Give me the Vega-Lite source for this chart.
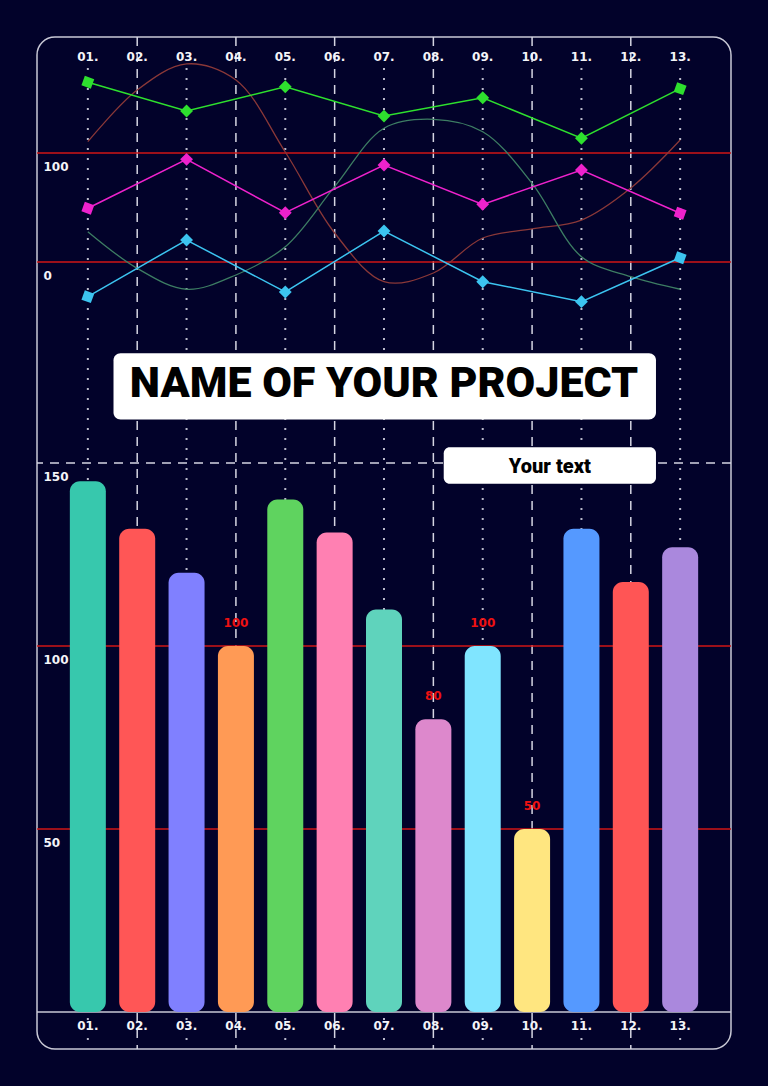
{
  "$schema": "https://vega.github.io/schema/vega-lite/v6.json",
  "width": 694,
  "height": 1012,
  "autosize": {"type": "none"},
  "padding": {"left": 37, "top": 37, "right": 37, "bottom": 37},
  "background": "#02022a",
  "view": {"stroke": "#c9c9d6", "strokeWidth": 1.5, "cornerRadius": 18},
  "config": {
    "axis": {"disable": true},
    "legend": {"disable": true},
    "scale": {"continuousPadding": 0},
    "view": {"stroke": "#c9c9d6", "strokeWidth": 1.5, "cornerRadius": 18},
    "text": {"font": "DejaVu Sans", "fontWeight": "bold", "fontSize": 12, "color": "#f4f4f8"}
  },
  "datasets": {
    "cols": [
      {"col": 1, "label": "01."}, {"col": 2, "label": "02."}, {"col": 3, "label": "03."},
      {"col": 4, "label": "04."}, {"col": 5, "label": "05."}, {"col": 6, "label": "06."},
      {"col": 7, "label": "07."}, {"col": 8, "label": "08."}, {"col": 9, "label": "09."},
      {"col": 10, "label": "10."}, {"col": 11, "label": "11."}, {"col": 12, "label": "12."},
      {"col": 13, "label": "13."}
    ],
    "bars": [
      {"col": 1, "v": 145}, {"col": 2, "v": 132}, {"col": 3, "v": 120}, {"col": 4, "v": 100},
      {"col": 5, "v": 140}, {"col": 6, "v": 131}, {"col": 7, "v": 110}, {"col": 8, "v": 80},
      {"col": 9, "v": 100}, {"col": 10, "v": 50}, {"col": 11, "v": 132}, {"col": 12, "v": 117.5},
      {"col": 13, "v": 127}
    ],
    "valLabels": [
      {"col": 4, "v": 100}, {"col": 8, "v": 80}, {"col": 9, "v": 100}, {"col": 10, "v": 50}
    ],
    "barTicks": [{"v": 150}, {"v": 100}, {"v": 50}],
    "barRed": [{"v": 100}, {"v": 50}],
    "lineTicks": [{"v": 100}, {"v": 0}],
    "lines": [
      {"series": "A", "col": 1, "v": 164.9}, {"series": "A", "col": 3, "v": 138.5},
      {"series": "A", "col": 5, "v": 160.8}, {"series": "A", "col": 7, "v": 133.9},
      {"series": "A", "col": 9, "v": 150.7}, {"series": "A", "col": 11, "v": 113.5},
      {"series": "A", "col": 13, "v": 159},
      {"series": "B", "col": 1, "v": 49.3}, {"series": "B", "col": 3, "v": 94.2},
      {"series": "B", "col": 5, "v": 45.2}, {"series": "B", "col": 7, "v": 89},
      {"series": "B", "col": 9, "v": 52.9}, {"series": "B", "col": 11, "v": 84.4},
      {"series": "B", "col": 13, "v": 44.7},
      {"series": "C", "col": 1, "v": -31.8}, {"series": "C", "col": 3, "v": 20.2},
      {"series": "C", "col": 5, "v": -27.5}, {"series": "C", "col": 7, "v": 28.4},
      {"series": "C", "col": 9, "v": -18.1}, {"series": "C", "col": 11, "v": -36.4},
      {"series": "C", "col": 13, "v": 3.9}
    ],
    "curves": [
      {"series": "D", "col": 1, "v": 110.4}, {"series": "D", "col": 2, "v": 157.8},
      {"series": "D", "col": 3, "v": 181.7}, {"series": "D", "col": 4, "v": 167},
      {"series": "D", "col": 5, "v": 100.9}, {"series": "D", "col": 6, "v": 26.6},
      {"series": "D", "col": 7, "v": -18}, {"series": "D", "col": 8, "v": -10.1},
      {"series": "D", "col": 9, "v": 22}, {"series": "D", "col": 10, "v": 30.3},
      {"series": "D", "col": 11, "v": 38.5}, {"series": "D", "col": 12, "v": 67.9},
      {"series": "D", "col": 13, "v": 111.9},
      {"series": "E", "col": 1, "v": 27.8}, {"series": "E", "col": 2, "v": -5.8},
      {"series": "E", "col": 3, "v": -25}, {"series": "E", "col": 4, "v": -11.9},
      {"series": "E", "col": 5, "v": 14}, {"series": "E", "col": 6, "v": 69.1},
      {"series": "E", "col": 7, "v": 122.7}, {"series": "E", "col": 8, "v": 130.9},
      {"series": "E", "col": 9, "v": 119.5}, {"series": "E", "col": 10, "v": 72.2},
      {"series": "E", "col": 11, "v": 4.9}, {"series": "E", "col": 12, "v": -13.5},
      {"series": "E", "col": 13, "v": -25}
    ]
  },
  "layer": [
    {
      "data": {"name": "cols"},
      "transform": [{"filter": "datum.col % 2 == 0"}],
      "mark": {"type": "rule", "strokeDash": [9, 7], "strokeWidth": 1.5, "color": "#d5d5e2"},
      "encoding": {
        "x": {"field": "col", "type": "quantitative", "scale": {"domain": [-0.03, 14.03], "nice": false, "zero": false, "padding": 0}}
      }
    },
    {
      "layer": [
        {
          "data": {"name": "cols"},
          "transform": [{"filter": "datum.col % 2 == 1"}],
          "mark": {"type": "rule", "strokeDash": [2, 8], "strokeWidth": 2, "color": "#b8b8c8"},
          "encoding": {
            "x": {"field": "col", "type": "quantitative", "scale": {"domain": [-0.03, 14.03], "nice": false, "zero": false, "padding": 0}},
            "y": {"datum": 257.9, "type": "quantitative", "scale": {"domain": [-10.11, 266.39], "nice": false, "zero": false, "padding": 0}},
            "y2": {"datum": -7.9}
          }
        },
        {
          "data": {"name": "barRed"},
          "mark": {"type": "rule", "strokeWidth": 1.5, "color": "#d01616"},
          "encoding": {
            "y": {"field": "v", "type": "quantitative", "scale": {"domain": [-10.11, 266.39], "nice": false, "zero": false, "padding": 0}}
          }
        },
        {
          "data": {"values": [{}]},
          "mark": {"type": "rule", "strokeWidth": 1.5, "strokeDash": [9, 7], "color": "#d5d5e2"},
          "encoding": {
            "y": {"datum": 150, "type": "quantitative", "scale": {"domain": [-10.11, 266.39], "nice": false, "zero": false, "padding": 0}}
          }
        },
        {
          "data": {"values": [{}]},
          "mark": {"type": "rule", "strokeWidth": 1.5, "color": "#c9c9d6"},
          "encoding": {
            "y": {"datum": 0, "type": "quantitative", "scale": {"domain": [-10.11, 266.39], "nice": false, "zero": false, "padding": 0}}
          }
        },
        {
          "data": {"name": "bars"},
          "mark": {"type": "bar", "orient": "vertical", "width": 36, "cornerRadius": 10},
          "encoding": {
            "x": {"field": "col", "type": "quantitative", "scale": {"domain": [-0.03, 14.03], "nice": false, "zero": false, "padding": 0}},
            "y": {"field": "v", "type": "quantitative", "stack": null, "scale": {"domain": [-10.11, 266.39], "nice": false, "zero": false, "padding": 0}},
            "y2": {"datum": 0},
            "color": {
              "field": "col", "type": "nominal",
              "scale": {
                "domain": [1, 2, 3, 4, 5, 6, 7, 8, 9, 10, 11, 12, 13],
                "range": ["#37c8ad", "#ff5656", "#8080ff", "#ff9a55", "#5fd35f", "#ff80b2", "#5fd3bc", "#dd88cc", "#80e5ff", "#ffe680", "#5599ff", "#ff5555", "#aa88dd"]
              }
            }
          }
        },
        {
          "data": {"name": "valLabels"},
          "mark": {"type": "text", "color": "#ee1111", "dy": -23},
          "encoding": {
            "x": {"field": "col", "type": "quantitative", "scale": {"domain": [-0.03, 14.03], "nice": false, "zero": false, "padding": 0}},
            "y": {"field": "v", "type": "quantitative", "scale": {"domain": [-10.11, 266.39], "nice": false, "zero": false, "padding": 0}},
            "text": {"field": "v", "type": "quantitative"}
          }
        },
        {
          "data": {"name": "barTicks"},
          "mark": {"type": "text", "align": "left", "dx": 5, "dy": 14},
          "encoding": {
            "x": {"datum": 0, "type": "quantitative", "scale": {"domain": [-0.03, 14.03], "nice": false, "zero": false, "padding": 0}},
            "y": {"field": "v", "type": "quantitative", "scale": {"domain": [-10.11, 266.39], "nice": false, "zero": false, "padding": 0}},
            "text": {"field": "v", "type": "quantitative"}
          }
        },
        {
          "data": {"name": "cols"},
          "mark": {"type": "text"},
          "encoding": {
            "x": {"field": "col", "type": "quantitative", "scale": {"domain": [-0.03, 14.03], "nice": false, "zero": false, "padding": 0}},
            "y": {"datum": 261, "type": "quantitative", "scale": {"domain": [-10.11, 266.39], "nice": false, "zero": false, "padding": 0}},
            "text": {"field": "label", "type": "nominal"}
          }
        },
        {
          "data": {"name": "cols"},
          "mark": {"type": "text"},
          "encoding": {
            "x": {"field": "col", "type": "quantitative", "scale": {"domain": [-0.03, 14.03], "nice": false, "zero": false, "padding": 0}},
            "y": {"datum": -3.8, "type": "quantitative", "scale": {"domain": [-10.11, 266.39], "nice": false, "zero": false, "padding": 0}},
            "text": {"field": "label", "type": "nominal"}
          }
        },
        {
          "data": {"values": [{}]},
          "mark": {"type": "rect", "color": "#ffffff", "cornerRadius": 7},
          "encoding": {
            "x": {"datum": 1.52, "type": "quantitative", "scale": {"domain": [-0.03, 14.03], "nice": false, "zero": false, "padding": 0}},
            "x2": {"datum": 12.51},
            "y": {"datum": 180.0, "type": "quantitative", "scale": {"domain": [-10.11, 266.39], "nice": false, "zero": false, "padding": 0}},
            "y2": {"datum": 161.9}
          }
        },
        {
          "data": {"values": [{}]},
          "mark": {"type": "text", "font": "Roboto", "fontWeight": 900, "fontSize": 43, "color": "#000000", "baseline": "middle"},
          "encoding": {
            "x": {"datum": 7.0, "type": "quantitative", "scale": {"domain": [-0.03, 14.03], "nice": false, "zero": false, "padding": 0}},
            "y": {"datum": 171.5, "type": "quantitative", "scale": {"domain": [-10.11, 266.39], "nice": false, "zero": false, "padding": 0}},
            "text": {"value": "NAME OF YOUR PROJECT"}
          }
        },
        {
          "data": {"values": [{}]},
          "mark": {"type": "rect", "color": "#ffffff", "cornerRadius": 6},
          "encoding": {
            "x": {"datum": 8.21, "type": "quantitative", "scale": {"domain": [-0.03, 14.03], "nice": false, "zero": false, "padding": 0}},
            "x2": {"datum": 12.51},
            "y": {"datum": 154.3, "type": "quantitative", "scale": {"domain": [-10.11, 266.39], "nice": false, "zero": false, "padding": 0}},
            "y2": {"datum": 144.3}
          }
        },
        {
          "data": {"values": [{}]},
          "mark": {"type": "text", "font": "Roboto", "fontWeight": 900, "fontSize": 20, "color": "#000000", "baseline": "middle"},
          "encoding": {
            "x": {"datum": 10.36, "type": "quantitative", "scale": {"domain": [-0.03, 14.03], "nice": false, "zero": false, "padding": 0}},
            "y": {"datum": 149.0, "type": "quantitative", "scale": {"domain": [-10.11, 266.39], "nice": false, "zero": false, "padding": 0}},
            "text": {"value": "Your text"}
          }
        }
      ]
    },
    {
      "layer": [
        {
          "data": {"name": "lineTicks"},
          "mark": {"type": "rule", "strokeWidth": 1.5, "color": "#d01616"},
          "encoding": {
            "y": {"field": "v", "type": "quantitative", "scale": {"domain": [-722, 206.42], "nice": false, "zero": false, "padding": 0}}
          }
        },
        {
          "data": {"name": "lineTicks"},
          "mark": {"type": "text", "align": "left", "dx": 5, "dy": 14},
          "encoding": {
            "x": {"datum": 0, "type": "quantitative", "scale": {"domain": [-0.03, 14.03], "nice": false, "zero": false, "padding": 0}},
            "y": {"field": "v", "type": "quantitative", "scale": {"domain": [-722, 206.42], "nice": false, "zero": false, "padding": 0}},
            "text": {"field": "v", "type": "quantitative"}
          }
        },
        {
          "data": {"name": "curves"},
          "mark": {"type": "line", "interpolate": "catmull-rom", "strokeWidth": 1.3},
          "encoding": {
            "x": {"field": "col", "type": "quantitative", "scale": {"domain": [-0.03, 14.03], "nice": false, "zero": false, "padding": 0}},
            "y": {"field": "v", "type": "quantitative", "scale": {"domain": [-722, 206.42], "nice": false, "zero": false, "padding": 0}},
            "color": {"field": "series", "type": "nominal", "scale": {"domain": ["A", "B", "C", "D", "E"], "range": ["#2ee02e", "#ee22cc", "#3cc4f0", "#8a3838", "#3d7d63"]}}
          }
        },
        {
          "data": {"name": "lines"},
          "mark": {"type": "line", "strokeWidth": 1.5},
          "encoding": {
            "x": {"field": "col", "type": "quantitative", "scale": {"domain": [-0.03, 14.03], "nice": false, "zero": false, "padding": 0}},
            "y": {"field": "v", "type": "quantitative", "scale": {"domain": [-722, 206.42], "nice": false, "zero": false, "padding": 0}},
            "color": {"field": "series", "type": "nominal", "scale": {"domain": ["A", "B", "C", "D", "E"], "range": ["#2ee02e", "#ee22cc", "#3cc4f0", "#8a3838", "#3d7d63"]}}
          }
        },
        {
          "data": {"name": "lines"},
          "mark": {"type": "point", "filled": true, "opacity": 1, "strokeWidth": 0},
          "encoding": {
            "x": {"field": "col", "type": "quantitative", "scale": {"domain": [-0.03, 14.03], "nice": false, "zero": false, "padding": 0}},
            "y": {"field": "v", "type": "quantitative", "scale": {"domain": [-722, 206.42], "nice": false, "zero": false, "padding": 0}},
            "color": {"field": "series", "type": "nominal", "scale": {"domain": ["A", "B", "C", "D", "E"], "range": ["#2ee02e", "#ee22cc", "#3cc4f0", "#8a3838", "#3d7d63"]}},
            "shape": {"condition": {"test": "datum.col == 1 || datum.col == 13", "value": "square"}, "value": "diamond"},
            "size": {"condition": {"test": "datum.col == 1 || datum.col == 13", "value": 100}, "value": 165},
            "angle": {"condition": {"test": "datum.col == 1 || datum.col == 13", "value": 20}, "value": 0}
          }
        }
      ]
    }
  ],
  "resolve": {"scale": {"y": "independent", "color": "independent"}}
}
